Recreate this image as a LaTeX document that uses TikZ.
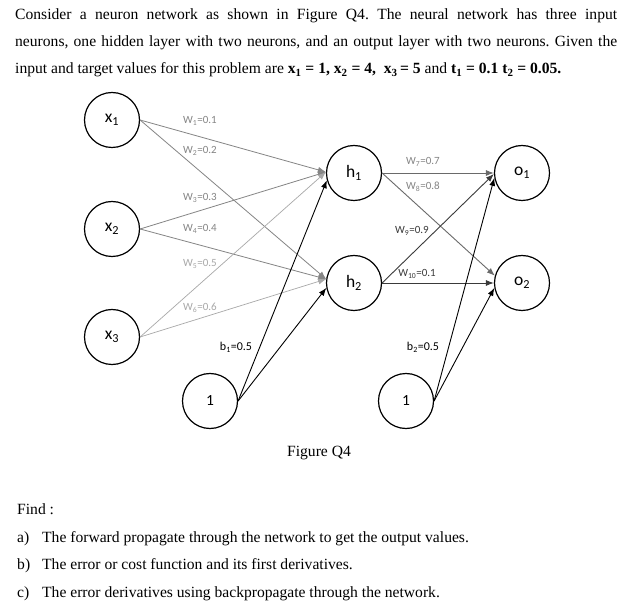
\documentclass[tikz,border=0pt]{standalone}
\usepackage{fontspec}
\setmainfont{Liberation Serif}
\newfontfamily\carl{Carlito}
\usetikzlibrary{arrows.meta}
\definecolor{gA}{HTML}{858585}
\definecolor{gB}{HTML}{A8A8A8}
\definecolor{gC}{HTML}{6A6A6A}
\definecolor{gD}{HTML}{3A3A3A}
\frenchspacing
\begin{document}
\begin{tikzpicture}[x=1pt,y=-1pt,
  txt/.style={inner sep=0pt,anchor=base west,font=\fontsize{15.6}{18}\selectfont},
  neuron/.style={circle,draw,line width=1.2pt,minimum size=55pt,inner sep=0pt,font=\carl\fontsize{17.5}{19}\selectfont},
  bias/.style={neuron,font=\carl\fontsize{15.5}{18}\selectfont},
  arr/.style={-{Latex[length=8pt,width=6pt]}},
  eA/.style={arr,draw=gA,line width=0.8pt},
  eB/.style={arr,draw=gB,line width=0.7pt},
  eC/.style={arr,draw=gC,line width=0.9pt},
  eD/.style={arr,draw=gD,line width=0.9pt},
  eK/.style={arr,draw=black,line width=0.9pt},
  wl/.style={inner sep=0pt,font=\carl\fontsize{11}{12}\selectfont},
  bl/.style={inner sep=0pt,font=\carl\fontsize{12}{13}\selectfont}]
\useasboundingbox (0,0) rectangle (637,609);
\fill[white] (0,0) rectangle (637,609);
% question text
\node[txt] (l1) at (15,20) {\makebox[602pt][s]{Consider a neuron network as shown in Figure Q4. The neural network has three input}};
\node[txt] (l2) at (15,47) {\makebox[602pt][s]{neurons, one hidden layer with two neurons, and an output layer with two neurons. Given the}};
\node[txt] (l3) at (15,74) {input and target values for this problem are \textbf{x\textsubscript{1} = 1, x\textsubscript{2} = 4,}\ \ \textbf{x\textsubscript{3}\,= 5} and \textbf{t\textsubscript{1} = 0.1 t\textsubscript{2} = 0.05.}};
% neurons
\node[neuron] (x1) at (112,120) {x\textsubscript{1}};
\node[neuron] (x2) at (112,229) {x\textsubscript{2}};
\node[neuron] (x3) at (112,337) {x\textsubscript{3}};
\node[neuron] (h1) at (354,173) {h\textsubscript{1}};
\node[neuron] (h2) at (354,283) {h\textsubscript{2}};
\node[neuron] (o1) at (522,173) {o\textsubscript{1}};
\node[neuron] (o2) at (522,283) {o\textsubscript{2}};
\node[bias] (b1) at (210,401) {1};
\node[bias] (b2) at (406,401) {1};
% input connections
\draw[eA] (x1.east) -- (h1.178);
\draw[eA] (x1.east) -- (h2.172);
\draw[eA] (x2.east) -- (h1.178);
\draw[eA] (x2.east) -- (h2.172);
\draw[eB] (x3.east) -- (h1.178);
\draw[eB] (x3.east) -- (h2.172);
\draw[eK] (b1.east) -- (h1.195);
\draw[eK] (b1.east) -- (h2.190);
% hidden connections
\draw[eC] (h1.east) -- (o1.west);
\draw[eC] (h1.east) -- (o2.165);
\draw[eD] (h2.east) -- (o1.182);
\draw[eD] (h2.east) -- (o2.west);
\draw[eK] (b2.east) -- (o1.190);
\draw[eK] (b2.east) -- (o2.190);
% weight labels
\node[wl,text=gA] (w1) at (200,121) {W\textsubscript{1}=0.1};
\node[wl,text=gA] (w2) at (200,151) {W\textsubscript{2}=0.2};
\node[wl,text=gA] (w3) at (200,198) {W\textsubscript{3}=0.3};
\node[wl,text=gA] (w4) at (200,229) {W\textsubscript{4}=0.4};
\node[wl,text=gB] (w5) at (200,264) {W\textsubscript{5}=0.5};
\node[wl,text=gB] (w6) at (200,308) {W\textsubscript{6}=0.6};
\node[wl,text=gA] (w7) at (423,162) {W\textsubscript{7}=0.7};
\node[wl,text=gA] (w8) at (423,187) {W\textsubscript{8}=0.8};
\node[wl,text=gD] (w9) at (412,231) {W\textsubscript{9}=0.9};
\node[wl,text=gD] (w10) at (417,274) {W\textsubscript{10}=0.1};
\node[bl] (bb1) at (236,347) {b\textsubscript{1}=0.5};
\node[bl] (bb2) at (423,347) {b\textsubscript{2}=0.5};
% caption
\node[inner sep=0pt,font=\fontsize{15.6}{18}\selectfont] (fig) at (319,453) {Figure Q4};
% questions
\node[txt] (find) at (17,514) {Find :};
\node[txt] (qa) at (17,542) {a)};
\node[txt] (ta) at (42,542) {The forward propagate through the network to get the output values.};
\node[txt] (qb) at (17,569) {b)};
\node[txt] (tb) at (42,569) {The error or cost function and its first derivatives.};
\node[txt] (qc) at (17,597) {c)};
\node[txt] (tc) at (42,597) {The error derivatives using backpropagate through the network.};
\end{tikzpicture}
\end{document}
